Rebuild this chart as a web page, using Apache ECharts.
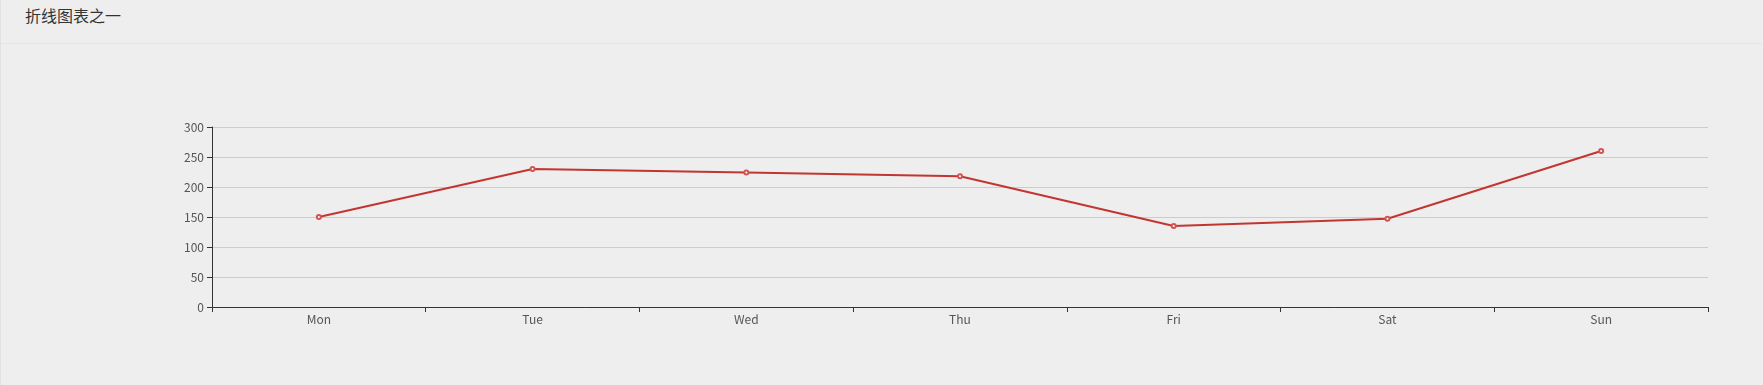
<!DOCTYPE html>
<html>
<head>
<meta charset="utf-8">
<script src="https://cdn.jsdelivr.net/npm/echarts@6/dist/echarts.min.js"></script>
<style>
  html, body { margin: 0; padding: 0; background: #eeeeee; }
  #wrap { width: 1762px; height: 385px; border-left: 1px solid #e2e2e2; box-sizing: border-box; position: relative; }
  #hdr { height: 43px; border-bottom: 1px solid #e4e4e4; box-sizing: content-box; font-family: "Noto Sans CJK SC", sans-serif; font-size: 16px; color: #333; line-height: 31px; padding-left: 24px; }
  #chart { width: 1762px; height: 341px; }
</style>
</head>
<body>
<div id="wrap">
  <div id="hdr">折线图表之一</div>
  <div id="chart"></div>
</div>
<script>
const categories = ['Mon', 'Tue', 'Wed', 'Thu', 'Fri', 'Sat', 'Sun'];
const values = [150, 230, 224, 218, 135, 147, 260];
const yTicks = { min: 0, max: 300, interval: 50 };

const chart = echarts.init(document.getElementById('chart'), null, { renderer: 'canvas' });
chart.setOption({
  backgroundColor: 'transparent',
  animation: false,
  textStyle: { fontFamily: '"Noto Sans CJK SC", sans-serif' },
  grid: { left: 211, right: 55, top: 83, bottom: 78, containLabel: false },
  xAxis: {
    type: 'category',
    data: categories,
    boundaryGap: true,
    axisLine: { lineStyle: { color: '#333', width: 1 } },
    axisTick: { show: true, length: 5, lineStyle: { color: '#333' } },
    axisLabel: { color: '#555', fontSize: 12, margin: 6 },
    splitLine: { show: false }
  },
  yAxis: {
    type: 'value',
    min: yTicks.min,
    max: yTicks.max,
    interval: yTicks.interval,
    axisLine: { show: true, lineStyle: { color: '#333', width: 1 } },
    axisTick: { show: true, length: 5, lineStyle: { color: '#333' } },
    axisLabel: { color: '#555', fontSize: 12, margin: 8 },
    splitLine: { show: true, lineStyle: { color: '#cccccc', width: 1 } }
  },
  series: [{
    type: 'line',
    data: values,
    symbol: 'emptyCircle',
    symbolSize: 4,
    lineStyle: { color: '#c23531', width: 2 },
    itemStyle: { color: '#d05454', borderWidth: 1 }
  }]
});
</script>
</body>
</html>
